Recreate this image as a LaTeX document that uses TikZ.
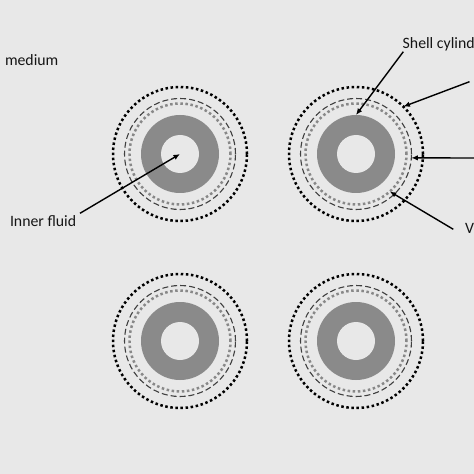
\documentclass[tikz,border=0pt]{standalone}
\usepackage{fontspec}
\setmainfont{Carlito}
\usetikzlibrary{arrows.meta}
\definecolor{bg}{HTML}{E8E8E8}
\definecolor{ringgray}{HTML}{8A8A8A}
\definecolor{dotgray}{HTML}{888888}
\definecolor{dashgray}{HTML}{404040}
\definecolor{txt}{HTML}{151515}
\tikzset{
  annulus/.style={circle, minimum size=78bp, inner sep=0pt, outer sep=0pt, fill=ringgray},
  hole/.style={circle, minimum size=38bp, inner sep=0pt, outer sep=0pt, fill=bg},
  outerdots/.style={circle, minimum size=134bp, inner sep=0pt, outer sep=0pt, draw=black, line width=2.5bp, dash pattern=on 2.5bp off 2.6bp},
  dashring/.style={circle, minimum size=111bp, inner sep=0pt, outer sep=0pt, draw=dashgray, line width=1.1bp, dash pattern=on 6bp off 3bp},
  graydots/.style={circle, minimum size=101bp, inner sep=0pt, outer sep=0pt, draw=dotgray, line width=2.5bp, dash pattern=on 2.5bp off 2.6bp},
  lbl/.style={inner sep=0pt, outer sep=0pt, text=txt, font=\fontsize{15.8bp}{18bp}\selectfont, anchor=base west},
  pointer/.style={draw=black, line width=1.4bp, -{Latex[length=6.5bp,width=5.5bp]}}
}
\begin{document}
\begin{tikzpicture}[x=1bp,y=-1bp]
  \fill[bg] (0,0) rectangle (474,474);
  \useasboundingbox (0,0) rectangle (474,474);
  % four cylinders
  \foreach \n/\cx/\cy in {1/180/154, 2/356/154, 3/180/341, 4/356/341}{
    \node[outerdots] (o\n) at (\cx,\cy) {};
    \node[dashring] (d\n) at (\cx,\cy) {};
    \node[graydots] (g\n) at (\cx,\cy) {};
    \node[annulus] (a\n) at (\cx,\cy) {};
    \node[hole] (w\n) at (\cx,\cy) {};
  }
  % labels
  \node[lbl] (medium) at (5,66) {medium};
  \node[lbl] (inner) at (10,226.7) {Inner fluid};
  \node[lbl] (shell) at (402.7,48.3) {Shell cylind};
  \node[lbl] (vlbl) at (465,233.3) {V};
  % arrow start points
  \coordinate (innerS) at (80,213.3);
  \coordinate (shellS) at (403.3,51.7);
  \coordinate (outerS) at (469.5,81.7);
  \coordinate (dashS) at (474,158);
  \coordinate (vS) at (453.3,229.3);
  % pointers
  \draw[pointer] (innerS) -- (w1.center);
  \draw[pointer] (shellS) -- (a2.north);
  \draw[pointer] (outerS) -- (o2.45);
  \draw[pointer] (dashS) -- (d2.-4);
  \draw[pointer] (vS) -- (g2.-48);
\end{tikzpicture}
\end{document}
